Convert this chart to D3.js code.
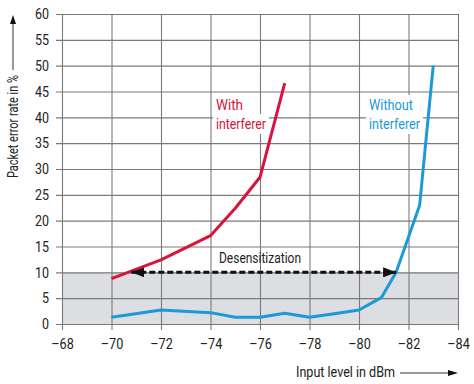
<!DOCTYPE html>
<html>
<head>
<meta charset="utf-8">
<script src="https://cdn.jsdelivr.net/npm/d3@7"></script>
<style>
  body { margin: 0; background: #fff; }
  text { font-family: Roboto, "Liberation Sans", sans-serif; fill: #222; }
</style>
</head>
<body>
<div id="chart"></div>
<script>
// chart data
var levelsWith = [-70, -72, -74, -75, -76, -77];
var perWith = [8.8, 12.4, 17.1, 22.4, 28.4, 46.6];

var levelsWithout = [-70, -72, -74, -75, -76, -77, -78, -79, -80, -80.9, -81.5, -82.45, -83];
var perWithout = [1.3, 2.7, 2.2, 1.3, 1.3, 2.1, 1.3, 2.0, 2.7, 5.1, 10, 23, 50];

var xTicks = [-68, -70, -72, -74, -76, -78, -80, -82, -84];
var yTicks = [0, 5, 10, 15, 20, 25, 30, 35, 40, 45, 50, 55, 60];

// desensitization arrow: from / to input level, at PER threshold
var desensFrom = -70.8;
var desensTo = -81.5;
var threshold = 10;

var svgWidth = 474;
var svgHeight = 384;

var svg = d3.select("#chart")
  .append("svg")
  .attr("width", svgWidth)
  .attr("height", svgHeight);

var x = d3.scaleLinear().domain([-68, -84]).range([62, 458]);
var y = d3.scaleLinear().domain([0, 60]).range([324, 14]);

var red = "#d8143c";
var blue = "#1a9ad6";
var gridColor = "#7a7a7a";

// squeeze text to look like the condensed face of the original
function squeeze(sel, w) {
  sel.attr("textLength", w).attr("lengthAdjust", "spacingAndGlyphs");
}

// grey band below the threshold
svg.append("rect")
  .attr("x", x(-68))
  .attr("y", y(threshold))
  .attr("width", x(-84) - x(-68))
  .attr("height", y(0) - y(threshold))
  .attr("fill", "#dcdee2");

// y axis with gridlines
var yAxis = svg.append("g")
  .attr("transform", "translate(56,0)")
  .call(d3.axisLeft(y).tickValues(yTicks).tickSize(-(x(-84) - 56)).tickPadding(7));
yAxis.select(".domain").remove();
yAxis.selectAll("line").attr("stroke", gridColor).attr("stroke-width", 1.1);
yAxis.selectAll("text").attr("font-size", 15).attr("fill", "#222")
  .each(function(d) { squeeze(d3.select(this), String(d).length * 7); });

// x axis with gridlines
var xAxis = svg.append("g")
  .attr("transform", "translate(0,330)")
  .call(d3.axisBottom(x).tickValues(xTicks).tickSize(-(330 - y(60))).tickPadding(8)
    .tickFormat(d => String(d).replace("-", "\u2013")));
xAxis.select(".domain").remove();
xAxis.selectAll("line").attr("stroke", gridColor).attr("stroke-width", 1.1);
xAxis.selectAll("text").attr("font-size", 15).attr("fill", "#222")
  .call(squeeze, 22.5);

// curve labels with white background boxes
function addLabel(lines, widths, lx, color) {
  var g = svg.append("g");
  lines.forEach(function(t, i) {
    var txt = g.append("text")
      .attr("x", lx)
      .attr("y", 110 + i * 19)
      .attr("font-size", 15)
      .style("fill", color)
      .text(t)
      .call(squeeze, widths[i]);
    var b = txt.node().getBBox();
    g.insert("rect", "text")
      .attr("x", b.x - 3)
      .attr("y", b.y - 1)
      .attr("width", b.width + 6)
      .attr("height", b.height + 2)
      .attr("fill", "#fff");
  });
}
addLabel(["With", "interferer"], [27, 50], 216, red);
addLabel(["Without", "interferer"], [44, 51], 369, blue);

// series lines
var line = d3.line()
  .x(d => x(d[0]))
  .y(d => y(d[1]));

svg.append("path")
  .datum(levelsWith.map((v, i) => [v, perWith[i]]))
  .attr("d", line)
  .attr("fill", "none")
  .attr("stroke", red)
  .attr("stroke-width", 3)
  .attr("stroke-linejoin", "round");

svg.append("path")
  .datum(levelsWithout.map((v, i) => [v, perWithout[i]]))
  .attr("d", line)
  .attr("fill", "none")
  .attr("stroke", blue)
  .attr("stroke-width", 3)
  .attr("stroke-linejoin", "round");

// desensitization arrow
var defs = svg.append("defs");
defs.append("marker")
  .attr("id", "head")
  .attr("markerUnits", "userSpaceOnUse")
  .attr("viewBox", "0 0 13 10")
  .attr("refX", 13)
  .attr("refY", 5)
  .attr("markerWidth", 13)
  .attr("markerHeight", 10)
  .attr("orient", "auto-start-reverse")
  .append("path")
  .attr("d", "M0,0 L13,5 L0,10 Z")
  .attr("fill", "#111");

svg.append("line")
  .attr("x1", x(desensFrom))
  .attr("x2", x(desensTo))
  .attr("y1", y(threshold))
  .attr("y2", y(threshold))
  .attr("stroke", "#111")
  .attr("stroke-width", 3)
  .attr("stroke-dasharray", "6,3")
  .attr("marker-start", "url(#head)")
  .attr("marker-end", "url(#head)");

svg.append("text")
  .attr("x", 219)
  .attr("y", 263)
  .attr("font-size", 14)
  .text("Desensitization")
  .call(squeeze, 82);

// axis titles with arrows
svg.append("text")
  .attr("transform", "translate(18,75) rotate(-90)")
  .attr("text-anchor", "end")
  .attr("font-size", 14)
  .text("Packet error rate in %")
  .call(squeeze, 103);
svg.append("line")
  .attr("x1", 13).attr("x2", 13)
  .attr("y1", 70).attr("y2", 22)
  .attr("stroke", "#333").attr("stroke-width", 1);
svg.append("path")
  .attr("d", "M13,15 L16,24 L10,24 Z")
  .attr("fill", "#111");

svg.append("text")
  .attr("x", 296)
  .attr("y", 377)
  .attr("font-size", 14)
  .text("Input level in dBm")
  .call(squeeze, 99);
svg.append("line")
  .attr("x1", 400).attr("x2", 450)
  .attr("y1", 373).attr("y2", 373)
  .attr("stroke", "#333").attr("stroke-width", 1);
svg.append("path")
  .attr("d", "M458,373 L448,370 L448,376 Z")
  .attr("fill", "#111");
</script>
</body>
</html>
